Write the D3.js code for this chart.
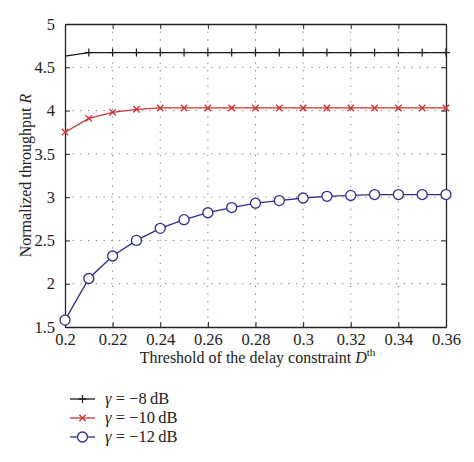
<!DOCTYPE html>
<html>
<head>
<meta charset="utf-8">
<script src="https://cdn.jsdelivr.net/npm/d3@7/dist/d3.min.js"></script>
<style>
  html, body { margin: 0; padding: 0; background: #fff; }
  text { font-family: "Liberation Serif", "DejaVu Serif", serif; fill: #222; }
</style>
</head>
<body>
<svg id="chart" width="474" height="462"></svg>
<script>
const thresholds = [0.20, 0.21, 0.22, 0.23, 0.24, 0.25, 0.26, 0.27, 0.28, 0.29, 0.30, 0.31, 0.32, 0.33, 0.34, 0.35, 0.36];
const gamma8  = [4.63, 4.67, 4.67, 4.67, 4.67, 4.67, 4.67, 4.67, 4.67, 4.67, 4.67, 4.67, 4.67, 4.67, 4.67, 4.67, 4.67];
const gamma10 = [3.75, 3.91, 3.98, 4.015, 4.03, 4.03, 4.03, 4.03, 4.03, 4.03, 4.03, 4.03, 4.03, 4.03, 4.03, 4.03, 4.03];
const gamma12 = [1.58, 2.06, 2.32, 2.50, 2.64, 2.74, 2.82, 2.88, 2.93, 2.96, 2.99, 3.01, 3.02, 3.03, 3.03, 3.03, 3.03];
const xTickValues = [0.2, 0.22, 0.24, 0.26, 0.28, 0.3, 0.32, 0.34, 0.36];
const yTickValues = [1.5, 2, 2.5, 3, 3.5, 4, 4.5, 5];
const seriesLabels = ["\u22128", "\u221210", "\u221212"];

const svg = d3.select("#chart");
const L = 65, R = 446, T = 24, B = 327;
const x = d3.scaleLinear().domain([0.2, 0.36]).range([L, R]);
const y = d3.scaleLinear().domain([1.5, 5]).range([B, T]);

// grid
const grid = svg.append("g");
grid.selectAll("line.gx").data(xTickValues.slice(1, -1)).join("line")
  .attr("x1", d => x(d)).attr("x2", d => x(d)).attr("y1", T).attr("y2", B)
  .attr("stroke", "#777").attr("stroke-width", 1).attr("stroke-dasharray", "1.2,6.5");
grid.selectAll("line.gy").data(yTickValues.slice(1, -1)).join("line")
  .attr("y1", d => y(d)).attr("y2", d => y(d)).attr("x1", L).attr("x2", R)
  .attr("stroke", "#777").attr("stroke-width", 1).attr("stroke-dasharray", "1.2,6.5");

// axes with inward ticks
const fmt = d => String(+d.toFixed(2));
const axB = svg.append("g").attr("transform", `translate(0,${B})`)
  .call(d3.axisBottom(x).tickValues(xTickValues).tickFormat(fmt).tickSizeInner(-5).tickSizeOuter(0).tickPadding(6));
const axT = svg.append("g").attr("transform", `translate(0,${T})`)
  .call(d3.axisTop(x).tickValues(xTickValues).tickFormat("").tickSizeInner(-5).tickSizeOuter(0));
const axLft = svg.append("g").attr("transform", `translate(${L},0)`)
  .call(d3.axisLeft(y).tickValues(yTickValues).tickFormat(fmt).tickSizeInner(-5).tickSizeOuter(0).tickPadding(10));
const axRgt = svg.append("g").attr("transform", `translate(${R},0)`)
  .call(d3.axisRight(y).tickValues(yTickValues).tickFormat("").tickSizeInner(-5).tickSizeOuter(0));
[axB, axT, axLft, axRgt].forEach(g => {
  g.attr("font-family", null);
  g.select(".domain").attr("stroke", "#222").attr("stroke-width", 1.3);
  g.selectAll(".tick line").attr("stroke", "#222").attr("stroke-width", 1);
  g.selectAll("text").attr("font-size", 16.5).attr("fill", "#222");
});

// series
const series = [
  { vals: gamma8,  color: "#1a1a1a", marker: "plus" },
  { vals: gamma10, color: "#cc3333", marker: "cross" },
  { vals: gamma12, color: "#2b2f8f", marker: "circle" }
];
const line = d3.line().x(d => x(d[0])).y(d => y(d[1]));

function drawMarker(g, kind, cx, cy, color) {
  if (kind === "plus") {
    g.append("line").attr("x1", cx - 4).attr("x2", cx + 4).attr("y1", cy).attr("y2", cy).attr("stroke", color).attr("stroke-width", 1.2);
    g.append("line").attr("x1", cx).attr("x2", cx).attr("y1", cy - 4).attr("y2", cy + 4).attr("stroke", color).attr("stroke-width", 1.2);
  } else if (kind === "cross") {
    const s = 3.2;
    g.append("line").attr("x1", cx - s).attr("x2", cx + s).attr("y1", cy - s).attr("y2", cy + s).attr("stroke", color).attr("stroke-width", 1.3);
    g.append("line").attr("x1", cx - s).attr("x2", cx + s).attr("y1", cy + s).attr("y2", cy - s).attr("stroke", color).attr("stroke-width", 1.3);
  } else {
    g.append("circle").attr("cx", cx).attr("cy", cy).attr("r", 5).attr("fill", "#fff").attr("stroke", color).attr("stroke-width", 1.3);
  }
}

series.forEach(s => {
  const pts = thresholds.map((t, i) => [t, s.vals[i]]);
  svg.append("path").datum(pts).attr("d", line).attr("fill", "none").attr("stroke", s.color).attr("stroke-width", 1.3);
  const mg = svg.append("g");
  pts.forEach((p, i) => {
    if (s.marker === "plus" && i === 0) return;
    drawMarker(mg, s.marker, x(p[0]), y(p[1]), s.color);
  });
});

// axis labels
const yl = svg.append("text")
  .attr("transform", `translate(31,${(T + B) / 2}) rotate(-90)`)
  .attr("text-anchor", "middle").attr("font-size", 16);
yl.append("tspan").text("Normalized throughput ");
yl.append("tspan").attr("font-style", "italic").text("R");

const xl = svg.append("text")
  .attr("x", (L + R) / 2 + 2).attr("y", 363)
  .attr("text-anchor", "middle").attr("font-size", 16);
xl.append("tspan").text("Threshold of the delay constraint ");
xl.append("tspan").attr("font-style", "italic").text("D");
xl.append("tspan").attr("font-size", 11).attr("dy", -7).text("th");

// legend
const rows = [399, 418, 437];
series.forEach((s, i) => {
  const g = svg.append("g");
  g.append("line").attr("x1", 70).attr("x2", 95).attr("y1", rows[i]).attr("y2", rows[i]).attr("stroke", s.color).attr("stroke-width", 1.3);
  drawMarker(g, s.marker, 82.5, rows[i], s.color);
  const t = g.append("text").attr("x", 105).attr("y", rows[i] + 5).attr("font-size", 16.5);
  t.append("tspan").attr("font-style", "italic").text("\u03B3");
  t.append("tspan").text(" = " + seriesLabels[i] + "\u2009dB");
});
</script>
</body>
</html>
